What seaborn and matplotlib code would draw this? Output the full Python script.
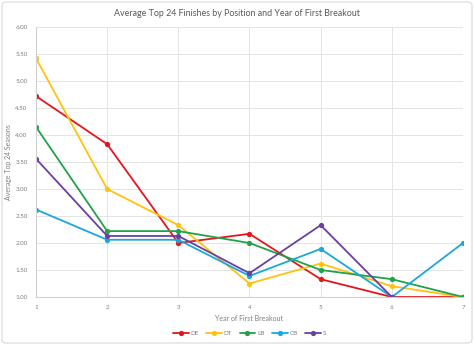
import numpy as np
import pandas as pd
import seaborn as sns
import matplotlib.pyplot as plt
from matplotlib.patches import FancyBboxPatch

years = [1, 2, 3, 4, 5, 6, 7]
de = [4.72, 3.83, 2.00, 2.17, 1.33, 1.00, 1.00]
dt = [5.42, 3.00, 2.33, 1.25, 1.62, 1.20, 1.00]
lb = [4.15, 2.22, 2.22, 2.00, 1.50, 1.33, 1.00]
cb = [2.62, 2.06, 2.06, 1.39, 1.89, 1.00, 2.00]
s = [3.56, 2.13, 2.13, 1.44, 2.33, 1.00, np.nan]
positions = ["DE", "DT", "LB", "CB", "S"]
colors = ["#E3161D", "#FFC20E", "#1FA24A", "#1BA7DE", "#6B3FA0"]

rows = []
for name, vals in zip(positions, [de, dt, lb, cb, s]):
    for x, v in zip(years, vals):
        rows.append({"Year": x, "Value": v, "Position": name})
df = pd.DataFrame(rows)

sns.set_style("white")
plt.rcParams['font.family'] = ['Lato', 'DejaVu Sans']

fig = plt.figure(figsize=(4.74, 3.45), dpi=100)
ax = fig.add_axes([36/474, 1-297/345, (463-36)/474, (297-27)/345])

sns.lineplot(data=df, x="Year", y="Value", hue="Position", hue_order=positions,
             palette=colors, marker="o", markersize=3.8, markeredgewidth=0,
             linewidth=1.3, ax=ax, legend=True)

ax.set_xlim(1, 7)
ax.set_ylim(1, 6)
ax.set_xticks(years)
ax.set_yticks(np.arange(1, 6.01, 0.5))
ax.set_yticklabels([f"{v:.2f}" for v in np.arange(1, 6.01, 0.5)])
ax.grid(True, color="#E4E4E4", linewidth=0.7)
for sp in ["top", "right"]:
    ax.spines[sp].set_visible(False)
for sp in ["left", "bottom"]:
    ax.spines[sp].set_color("#D0D0D0")
    ax.spines[sp].set_linewidth(0.8)
ax.tick_params(axis="both", labelsize=4.5, colors="#7F7F7F", length=0, pad=6)
ax.set_xlabel("Year of First Breakout", fontsize=5, color="#7F7F7F")
ax.set_ylabel("Average Top 24 Seasons", fontsize=5, color="#7F7F7F")
ax.yaxis.set_label_coords(-24/427, 0.5)
ax.xaxis.set_label_coords(0.5, -18/270)
fig.text(0.5, 1-14/345, "Average Top 24 Finishes by Position and Year of First Breakout",
         ha="center", va="center", fontsize=6.4, color="#595959")

leg = ax.legend(loc="center", bbox_to_anchor=(0.5, (297-333)/270), ncol=5, frameon=False,
                fontsize=4.5, handlelength=2.5, columnspacing=1.2, handletextpad=0.3,
                bbox_transform=ax.transAxes)
for t in leg.get_texts():
    t.set_color("#7F7F7F")

border = FancyBboxPatch((2/474, 2/345), 470/474, 341/345, boxstyle="round,pad=0,rounding_size=0.01",
                        transform=fig.transFigure, fill=False, edgecolor="#D9D9D9", linewidth=0.8)
fig.patches.append(border)

fig.savefig("out.png", dpi=100)
